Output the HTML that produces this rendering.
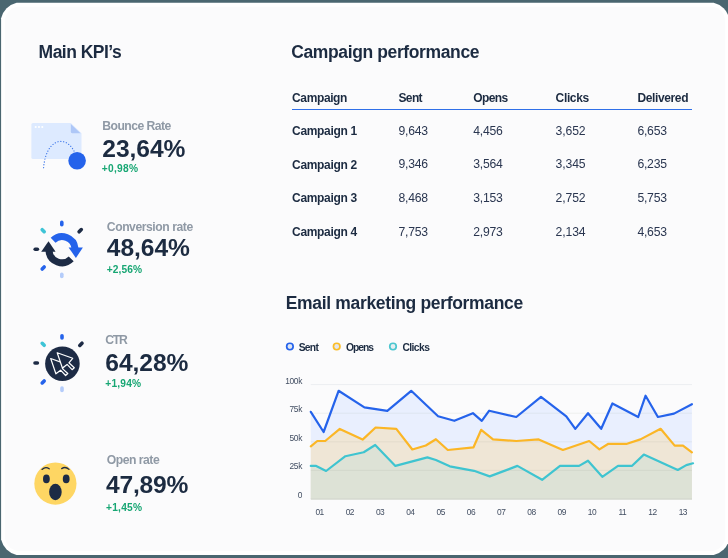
<!DOCTYPE html>
<html lang="en">
<head>
<meta charset="utf-8">
<title>Email marketing dashboard</title>
<style>
html, body { margin: 0; padding: 0; }
body { width: 728px; height: 558px; overflow: hidden; background: #4a6670; font-family: "Liberation Sans", sans-serif; }
.card { position: absolute; left: 0; top: 0; width: 728px; height: 558px; overflow: hidden; }
.txt { position: absolute; left: 0; top: 0; width: 728px; height: 558px; will-change: transform; transform: translateZ(0); }
.t { position: absolute; white-space: pre; line-height: 1; font-family: "Liberation Sans", sans-serif; }
.rule { position: absolute; left: 292px; top: 108.5px; width: 400px; height: 1.7px; background: #2f6fe8; }
svg.art { position: absolute; left: 0; top: 0; width: 728px; height: 558px; overflow: visible; }

</style>
</head>
<body>
<div class="card">
<svg class="art" viewBox="0 0 728 558">
  <path d="M16.60 2.80 H713.70 A21.0 21.0 0 0 1 729.20 18.30 V539.60 A21.0 21.0 0 0 1 713.70 555.10 H16.60 A21.0 21.0 0 0 1 1.10 539.60 V18.30 A21.0 21.0 0 0 1 16.60 2.80 Z" fill="#ffffff"/>
  <path d="M17.10 6.80 H713.20 A16.0 16.0 0 0 1 725.20 18.80 V539.10 A16.0 16.0 0 0 1 713.20 551.10 H17.10 A16.0 16.0 0 0 1 5.10 539.10 V18.80 A16.0 16.0 0 0 1 17.10 6.80 Z" fill="#fbfbfc"/>
</svg>
<div class="rule"></div>
<svg class="art" viewBox="0 0 728 558">
  <!-- ICON 1: bounce rate -->
  <g id="ico-bounce">
    <path d="M33 123 H70.8 L81.5 133.2 V157.5 Q81.5 159 80 159 H33 Q31.4 159 31.4 157.5 V124.5 Q31.4 123 33 123 Z" fill="#ddeaff"/>
    <path d="M70.8 124 L80.6 133.2 H72.2 Q70.8 133.2 70.8 131.8 Z" fill="#aec7f7"/>
    <circle cx="35.7" cy="127" r="1.05" fill="#ffffff"/>
    <circle cx="39" cy="127" r="1.05" fill="#ffffff"/>
    <circle cx="42.3" cy="127" r="1.05" fill="#ffffff"/>
    <path d="M43.6 167.7 C45 150 53 141.4 60.8 141.4 C66.5 141.4 71 145.5 74 151" fill="none" stroke="#3f78ea" stroke-width="1.25" stroke-linecap="round" stroke-dasharray="0.1 2.75"/>
    <circle cx="77.1" cy="160.8" r="8.8" fill="#2563eb"/>
  </g>

  <!-- ICON 2: conversion rate -->
  <g id="ico-conv" stroke-linecap="round" stroke-width="3.6" fill="none">
    <line x1="61.8" y1="222.4" x2="61.8" y2="224.8" stroke="#2563eb"/>
    <line x1="42.2" y1="229.7" x2="44.2" y2="231.7" stroke="#3ec4d6"/>
    <line x1="81.3" y1="229.6" x2="79.1" y2="231.8" stroke="#1d2b45"/>
    <line x1="35.2" y1="249.2" x2="37.4" y2="249.2" stroke="#1d2b45"/>
    <line x1="42.2" y1="269" x2="44.2" y2="267" stroke="#2563eb"/>
    <line x1="61.8" y1="274.2" x2="61.8" y2="276.4" stroke="#b4ccfa"/>
  </g>
  <g id="ico-conv-arrows">
    <!-- blue arc: from angle -133deg to ~ -5deg clockwise, r 13, width 7 -->
    <path d="M53.1 240.2 A13 13 0 0 1 75 248.4" fill="none" stroke="#2563eb" stroke-width="7"/>
    <path d="M68.6 247.4 H82.9 L75.9 258 Z" fill="#2563eb"/>
    <path d="M71.2 258.9 A13 13 0 0 1 49 250.8" fill="none" stroke="#1d2b45" stroke-width="7"/>
    <path d="M41.2 251.8 H55.6 L48.5 241.2 Z" fill="#1d2b45"/>
  </g>

  <!-- ICON 3: CTR -->
  <g id="ico-ctr" stroke-linecap="round" stroke-width="3.6" fill="none">
    <line x1="62" y1="335.7" x2="62" y2="338" stroke="#2563eb"/>
    <line x1="42.2" y1="343.3" x2="44.2" y2="345.3" stroke="#3ec4d6"/>
    <line x1="82" y1="343.2" x2="79.8" y2="345.4" stroke="#1d2b45"/>
    <line x1="35" y1="363" x2="37.4" y2="363" stroke="#1d2b45"/>
    <line x1="42.2" y1="382.9" x2="44.2" y2="380.9" stroke="#2563eb"/>
    <line x1="62" y1="388" x2="62" y2="390.4" stroke="#b4ccfa"/>
  </g>
  <g id="ico-ctr-disc">
    <circle cx="62.4" cy="363.7" r="17.3" fill="#1d2b45"/>
    <!-- back cursor -->
    <path d="M50.7 358.5 L66.2 364.1 L62.4 368.6 L67.8 373.5 L65.6 375.5 L60.6 370.2 L55.9 373.8 Z" fill="#1d2b45" stroke="#ffffff" stroke-width="1.2" stroke-linejoin="round"/>
    <!-- front cursor -->
    <path d="M57.2 352.7 L72.7 358.3 L68.9 362.8 L74.3 367.7 L72.1 369.7 L67.1 364.4 L62.4 368 Z" fill="#1d2b45" stroke="#ffffff" stroke-width="1.2" stroke-linejoin="round"/>
  </g>

  <!-- ICON 4: open rate emoji -->
  <g id="ico-open">
    <circle cx="55.4" cy="483.6" r="21.1" fill="#fed663"/>
    <ellipse cx="46.4" cy="478.9" rx="3.4" ry="4.4" fill="#1d2b45"/>
    <ellipse cx="66.2" cy="478.9" rx="3.4" ry="4.4" fill="#1d2b45"/>
    <ellipse cx="55.4" cy="492" rx="6.3" ry="8.2" fill="#1d2b45"/>
    <path d="M42 469.4 Q45.6 466.2 49.2 468.8" fill="none" stroke="#1d2b45" stroke-width="1.3" stroke-linecap="round"/>
    <path d="M61.7 468.6 Q65.4 466 69 469.4" fill="none" stroke="#1d2b45" stroke-width="1.3" stroke-linecap="round"/>
  </g>

  <!-- LEGEND -->
  <g id="legend" stroke-width="1.7">
    <circle cx="289.9" cy="346.5" r="3.25" fill="#dfe6f3" stroke="#2563eb"/>
    <circle cx="336.7" cy="346.5" r="3.25" fill="#e4e6ea" stroke="#fbbc25"/>
    <circle cx="393" cy="346.5" r="3.25" fill="#e6eef1" stroke="#4cc6cf"/>
  </g>

  <!-- CHART -->
  <g id="chart">
    <line x1="310.8" y1="384.6" x2="692" y2="384.6" stroke="#eceef1" stroke-width="1"/>
    <path id="a-blue" fill="#e9effe" d="M310.8 411.8 L323.6 432 L338.6 390.8 L364.4 407.4 L387.3 410.9 L411.2 390.8 L438.1 416.3 L454.3 420.8 L472.9 413.2 L481.8 420.8 L489.2 410.7 L516.3 417 L541 396.8 L566.3 416.3 L575.3 428.9 L588 413.2 L601.2 428.8 L612.4 403.5 L638.2 417 L645.6 395.7 L657.9 417 L674 413.6 L691.9 404.2 V499 H310.8 Z"/>
    <path id="a-yellow" fill="#efe6d6" d="M310.8 446.4 L317.3 441 L325.2 441 L339.8 428.9 L362.6 439.6 L375.6 427.5 L396.3 428.9 L412.3 449.5 L425.8 445.5 L435.9 439.2 L447.8 450 L473.5 447.3 L481.2 429.8 L493 439.4 L516.3 441 L538.7 439.4 L562.9 450 L589.2 441 L599.4 449.4 L608.4 443.8 L627 443.8 L640.4 439.4 L660.6 428.8 L674.7 445.6 L683 445.6 L691.9 452.4 V499 H310.8 Z"/>
    <path id="a-cyan" fill="#dde2d6" d="M310.8 465.9 L316.2 465.9 L326.1 471 L345.4 456.2 L363.7 452.2 L375.2 445 L395.4 465.9 L427.4 457.4 L435.9 460 L449.8 466.3 L474 470.8 L489.7 476.4 L517.4 465.9 L542.1 479.8 L560 465.9 L579.1 465.9 L588 460.7 L602.3 476.8 L618 465.8 L632.1 465.8 L643.8 454.6 L677.8 470 L686.3 465.1 L691.9 463.6 V499 H310.8 Z"/>
    <g stroke="#8a8f80" stroke-opacity="0.11" stroke-width="1">
      <line x1="310.8" y1="413.2" x2="692" y2="413.2"/>
      <line x1="310.8" y1="441.8" x2="692" y2="441.8"/>
      <line x1="310.8" y1="470.4" x2="692" y2="470.4"/>
    </g>
    <line x1="310.8" y1="499" x2="692" y2="499" stroke="#d4d9cf" stroke-width="1.4"/>
    <g fill="none" stroke-width="2.2" stroke-linejoin="round" stroke-linecap="round">
      <path stroke="#2563eb" d="M310.8 411.8 L323.6 432 L338.6 390.8 L364.4 407.4 L387.3 410.9 L411.2 390.8 L438.1 416.3 L454.3 420.8 L472.9 413.2 L481.8 420.8 L489.2 410.7 L516.3 417 L541 396.8 L566.3 416.3 L575.3 428.9 L588 413.2 L601.2 428.8 L612.4 403.5 L638.2 417 L645.6 395.7 L657.9 417 L674 413.6 L691.9 404.2"/>
      <path stroke="#fbb626" d="M310.8 446.4 L317.3 441 L325.2 441 L339.8 428.9 L362.6 439.6 L375.6 427.5 L396.3 428.9 L412.3 449.5 L425.8 445.5 L435.9 439.2 L447.8 450 L473.5 447.3 L481.2 429.8 L493 439.4 L516.3 441 L538.7 439.4 L562.9 450 L589.2 441 L599.4 449.4 L608.4 443.8 L627 443.8 L640.4 439.4 L660.6 428.8 L674.7 445.6 L683 445.6 L691.9 452.4"/>
      <path stroke="#3fc4d0" d="M310.8 465.9 L316.2 465.9 L326.1 471 L345.4 456.2 L363.7 452.2 L375.2 445 L395.4 465.9 L427.4 457.4 L435.9 460 L449.8 466.3 L474 470.8 L489.7 476.4 L517.4 465.9 L542.1 479.8 L560 465.9 L579.1 465.9 L588 460.7 L602.3 476.8 L618 465.8 L632.1 465.8 L643.8 454.6 L677.8 470 L686.3 465.1 L693 463.3"/>
    </g>
  </g>
</svg>

<div class="txt">
<div class="t" style="top:43.99px;font-size:17.5px;font-weight:700;color:#1c2b41;left:38.60px;letter-spacing:-0.527px;">Main KPI’s</div>
<div class="t" style="top:44.49px;font-size:17.5px;font-weight:700;color:#1c2b41;left:291.20px;letter-spacing:-0.377px;">Campaign performance</div>
<div class="t" style="top:294.69px;font-size:17.5px;font-weight:700;color:#1c2b41;left:285.70px;letter-spacing:-0.329px;">Email marketing performance</div>
<div class="t" style="top:119.87px;font-size:12.2px;font-weight:700;color:#8f99a5;left:102.30px;letter-spacing:-0.550px;">Bounce Rate</div>
<div class="t" style="top:136.68px;font-size:24.6px;font-weight:700;color:#1c2b41;left:102.30px;letter-spacing:-0.064px;">23,64%</div>
<div class="t" style="top:164.47px;font-size:10.2px;font-weight:700;color:#17a673;left:101.80px;letter-spacing:0.271px;">+0,98%</div>
<div class="t" style="top:221.17px;font-size:12.2px;font-weight:700;color:#8f99a5;left:106.80px;letter-spacing:-0.457px;">Conversion rate</div>
<div class="t" style="top:236.38px;font-size:24.6px;font-weight:700;color:#1c2b41;left:106.80px;letter-spacing:-0.064px;">48,64%</div>
<div class="t" style="top:265.37px;font-size:10.2px;font-weight:700;color:#17a673;left:106.80px;letter-spacing:0.091px;">+2,56%</div>
<div class="t" style="top:333.57px;font-size:12.2px;font-weight:700;color:#8f99a5;left:105.30px;letter-spacing:-1.231px;">CTR</div>
<div class="t" style="top:350.98px;font-size:24.6px;font-weight:700;color:#1c2b41;left:105.30px;letter-spacing:-0.064px;">64,28%</div>
<div class="t" style="top:379.47px;font-size:10.2px;font-weight:700;color:#17a673;left:105.30px;letter-spacing:0.191px;">+1,94%</div>
<div class="t" style="top:453.57px;font-size:12.2px;font-weight:700;color:#8f99a5;left:106.80px;letter-spacing:-0.501px;">Open rate</div>
<div class="t" style="top:473.08px;font-size:24.6px;font-weight:700;color:#1c2b41;left:105.90px;letter-spacing:-0.184px;">47,89%</div>
<div class="t" style="top:502.87px;font-size:10.2px;font-weight:700;color:#17a673;left:106.00px;letter-spacing:0.251px;">+1,45%</div>
<div class="t" style="top:91.94px;font-size:12.0px;font-weight:700;color:#1c2b41;left:292.10px;letter-spacing:-0.388px;">Campaign</div>
<div class="t" style="top:91.94px;font-size:12.0px;font-weight:700;color:#1c2b41;left:398.50px;letter-spacing:-0.639px;">Sent</div>
<div class="t" style="top:91.94px;font-size:12.0px;font-weight:700;color:#1c2b41;left:473.20px;letter-spacing:-0.611px;">Opens</div>
<div class="t" style="top:91.94px;font-size:12.0px;font-weight:700;color:#1c2b41;left:555.60px;letter-spacing:-0.352px;">Clicks</div>
<div class="t" style="top:91.94px;font-size:12.0px;font-weight:700;color:#1c2b41;left:637.40px;letter-spacing:-0.366px;">Delivered</div>
<div class="t" style="top:124.94px;font-size:12.0px;font-weight:700;color:#1c2b41;left:292.10px;letter-spacing:-0.335px;">Campaign 1</div>
<div class="t" style="top:124.77px;font-size:12.2px;font-weight:400;color:#2a3650;left:398.50px;letter-spacing:-0.225px;">9,643</div>
<div class="t" style="top:124.77px;font-size:12.2px;font-weight:400;color:#2a3650;left:473.20px;letter-spacing:-0.200px;">4,456</div>
<div class="t" style="top:124.77px;font-size:12.2px;font-weight:400;color:#2a3650;left:555.60px;letter-spacing:-0.125px;">3,652</div>
<div class="t" style="top:124.77px;font-size:12.2px;font-weight:400;color:#2a3650;left:637.40px;letter-spacing:-0.225px;">6,653</div>
<div class="t" style="top:158.64px;font-size:12.0px;font-weight:700;color:#1c2b41;left:292.10px;letter-spacing:-0.335px;">Campaign 2</div>
<div class="t" style="top:158.47px;font-size:12.2px;font-weight:400;color:#2a3650;left:398.50px;letter-spacing:-0.225px;">9,346</div>
<div class="t" style="top:158.47px;font-size:12.2px;font-weight:400;color:#2a3650;left:473.20px;letter-spacing:-0.200px;">3,564</div>
<div class="t" style="top:158.47px;font-size:12.2px;font-weight:400;color:#2a3650;left:555.60px;letter-spacing:-0.125px;">3,345</div>
<div class="t" style="top:158.47px;font-size:12.2px;font-weight:400;color:#2a3650;left:637.40px;letter-spacing:-0.225px;">6,235</div>
<div class="t" style="top:192.24px;font-size:12.0px;font-weight:700;color:#1c2b41;left:292.10px;letter-spacing:-0.335px;">Campaign 3</div>
<div class="t" style="top:192.07px;font-size:12.2px;font-weight:400;color:#2a3650;left:398.50px;letter-spacing:-0.225px;">8,468</div>
<div class="t" style="top:192.07px;font-size:12.2px;font-weight:400;color:#2a3650;left:473.20px;letter-spacing:-0.200px;">3,153</div>
<div class="t" style="top:192.07px;font-size:12.2px;font-weight:400;color:#2a3650;left:555.60px;letter-spacing:-0.125px;">2,752</div>
<div class="t" style="top:192.07px;font-size:12.2px;font-weight:400;color:#2a3650;left:637.40px;letter-spacing:-0.225px;">5,753</div>
<div class="t" style="top:225.84px;font-size:12.0px;font-weight:700;color:#1c2b41;left:292.10px;letter-spacing:-0.335px;">Campaign 4</div>
<div class="t" style="top:225.67px;font-size:12.2px;font-weight:400;color:#2a3650;left:398.50px;letter-spacing:-0.225px;">7,753</div>
<div class="t" style="top:225.67px;font-size:12.2px;font-weight:400;color:#2a3650;left:473.20px;letter-spacing:-0.200px;">2,973</div>
<div class="t" style="top:225.67px;font-size:12.2px;font-weight:400;color:#2a3650;left:555.60px;letter-spacing:-0.125px;">2,134</div>
<div class="t" style="top:225.67px;font-size:12.2px;font-weight:400;color:#2a3650;left:637.40px;letter-spacing:-0.225px;">4,653</div>
<div class="t" style="top:342.88px;font-size:10.3px;font-weight:700;color:#1c2b41;left:298.70px;letter-spacing:-0.709px;">Sent</div>
<div class="t" style="top:342.88px;font-size:10.3px;font-weight:700;color:#1c2b41;left:345.90px;letter-spacing:-0.962px;">Opens</div>
<div class="t" style="top:342.88px;font-size:10.3px;font-weight:700;color:#1c2b41;left:402.40px;letter-spacing:-0.569px;">Clicks</div>
<div class="t" style="top:376.59px;font-size:8.4px;font-weight:400;color:#424e62;left:285.22px;letter-spacing:-0.330px;">100k</div>
<div class="t" style="top:405.19px;font-size:8.4px;font-weight:400;color:#424e62;left:289.54px;letter-spacing:-0.330px;">75k</div>
<div class="t" style="top:433.79px;font-size:8.4px;font-weight:400;color:#424e62;left:289.54px;letter-spacing:-0.330px;">50k</div>
<div class="t" style="top:462.39px;font-size:8.4px;font-weight:400;color:#424e62;left:289.54px;letter-spacing:-0.330px;">25k</div>
<div class="t" style="top:490.99px;font-size:8.4px;font-weight:400;color:#424e62;left:297.73px;letter-spacing:-0.330px;">0</div>
<div class="t" style="top:507.89px;font-size:8.4px;font-weight:400;color:#424e62;left:315.39px;letter-spacing:-0.500px;">01</div>
<div class="t" style="top:507.89px;font-size:8.4px;font-weight:400;color:#424e62;left:345.66px;letter-spacing:-0.500px;">02</div>
<div class="t" style="top:507.89px;font-size:8.4px;font-weight:400;color:#424e62;left:375.93px;letter-spacing:-0.500px;">03</div>
<div class="t" style="top:507.89px;font-size:8.4px;font-weight:400;color:#424e62;left:406.20px;letter-spacing:-0.500px;">04</div>
<div class="t" style="top:507.89px;font-size:8.4px;font-weight:400;color:#424e62;left:436.47px;letter-spacing:-0.500px;">05</div>
<div class="t" style="top:507.89px;font-size:8.4px;font-weight:400;color:#424e62;left:466.74px;letter-spacing:-0.500px;">06</div>
<div class="t" style="top:507.89px;font-size:8.4px;font-weight:400;color:#424e62;left:497.01px;letter-spacing:-0.500px;">07</div>
<div class="t" style="top:507.89px;font-size:8.4px;font-weight:400;color:#424e62;left:527.28px;letter-spacing:-0.500px;">08</div>
<div class="t" style="top:507.89px;font-size:8.4px;font-weight:400;color:#424e62;left:557.55px;letter-spacing:-0.500px;">09</div>
<div class="t" style="top:507.89px;font-size:8.4px;font-weight:400;color:#424e62;left:587.82px;letter-spacing:-0.500px;">10</div>
<div class="t" style="top:507.89px;font-size:8.4px;font-weight:400;color:#424e62;left:618.40px;letter-spacing:-0.500px;">11</div>
<div class="t" style="top:507.89px;font-size:8.4px;font-weight:400;color:#424e62;left:648.36px;letter-spacing:-0.500px;">12</div>
<div class="t" style="top:507.89px;font-size:8.4px;font-weight:400;color:#424e62;left:678.63px;letter-spacing:-0.500px;">13</div>
</div>
</div>
</body>
</html>
